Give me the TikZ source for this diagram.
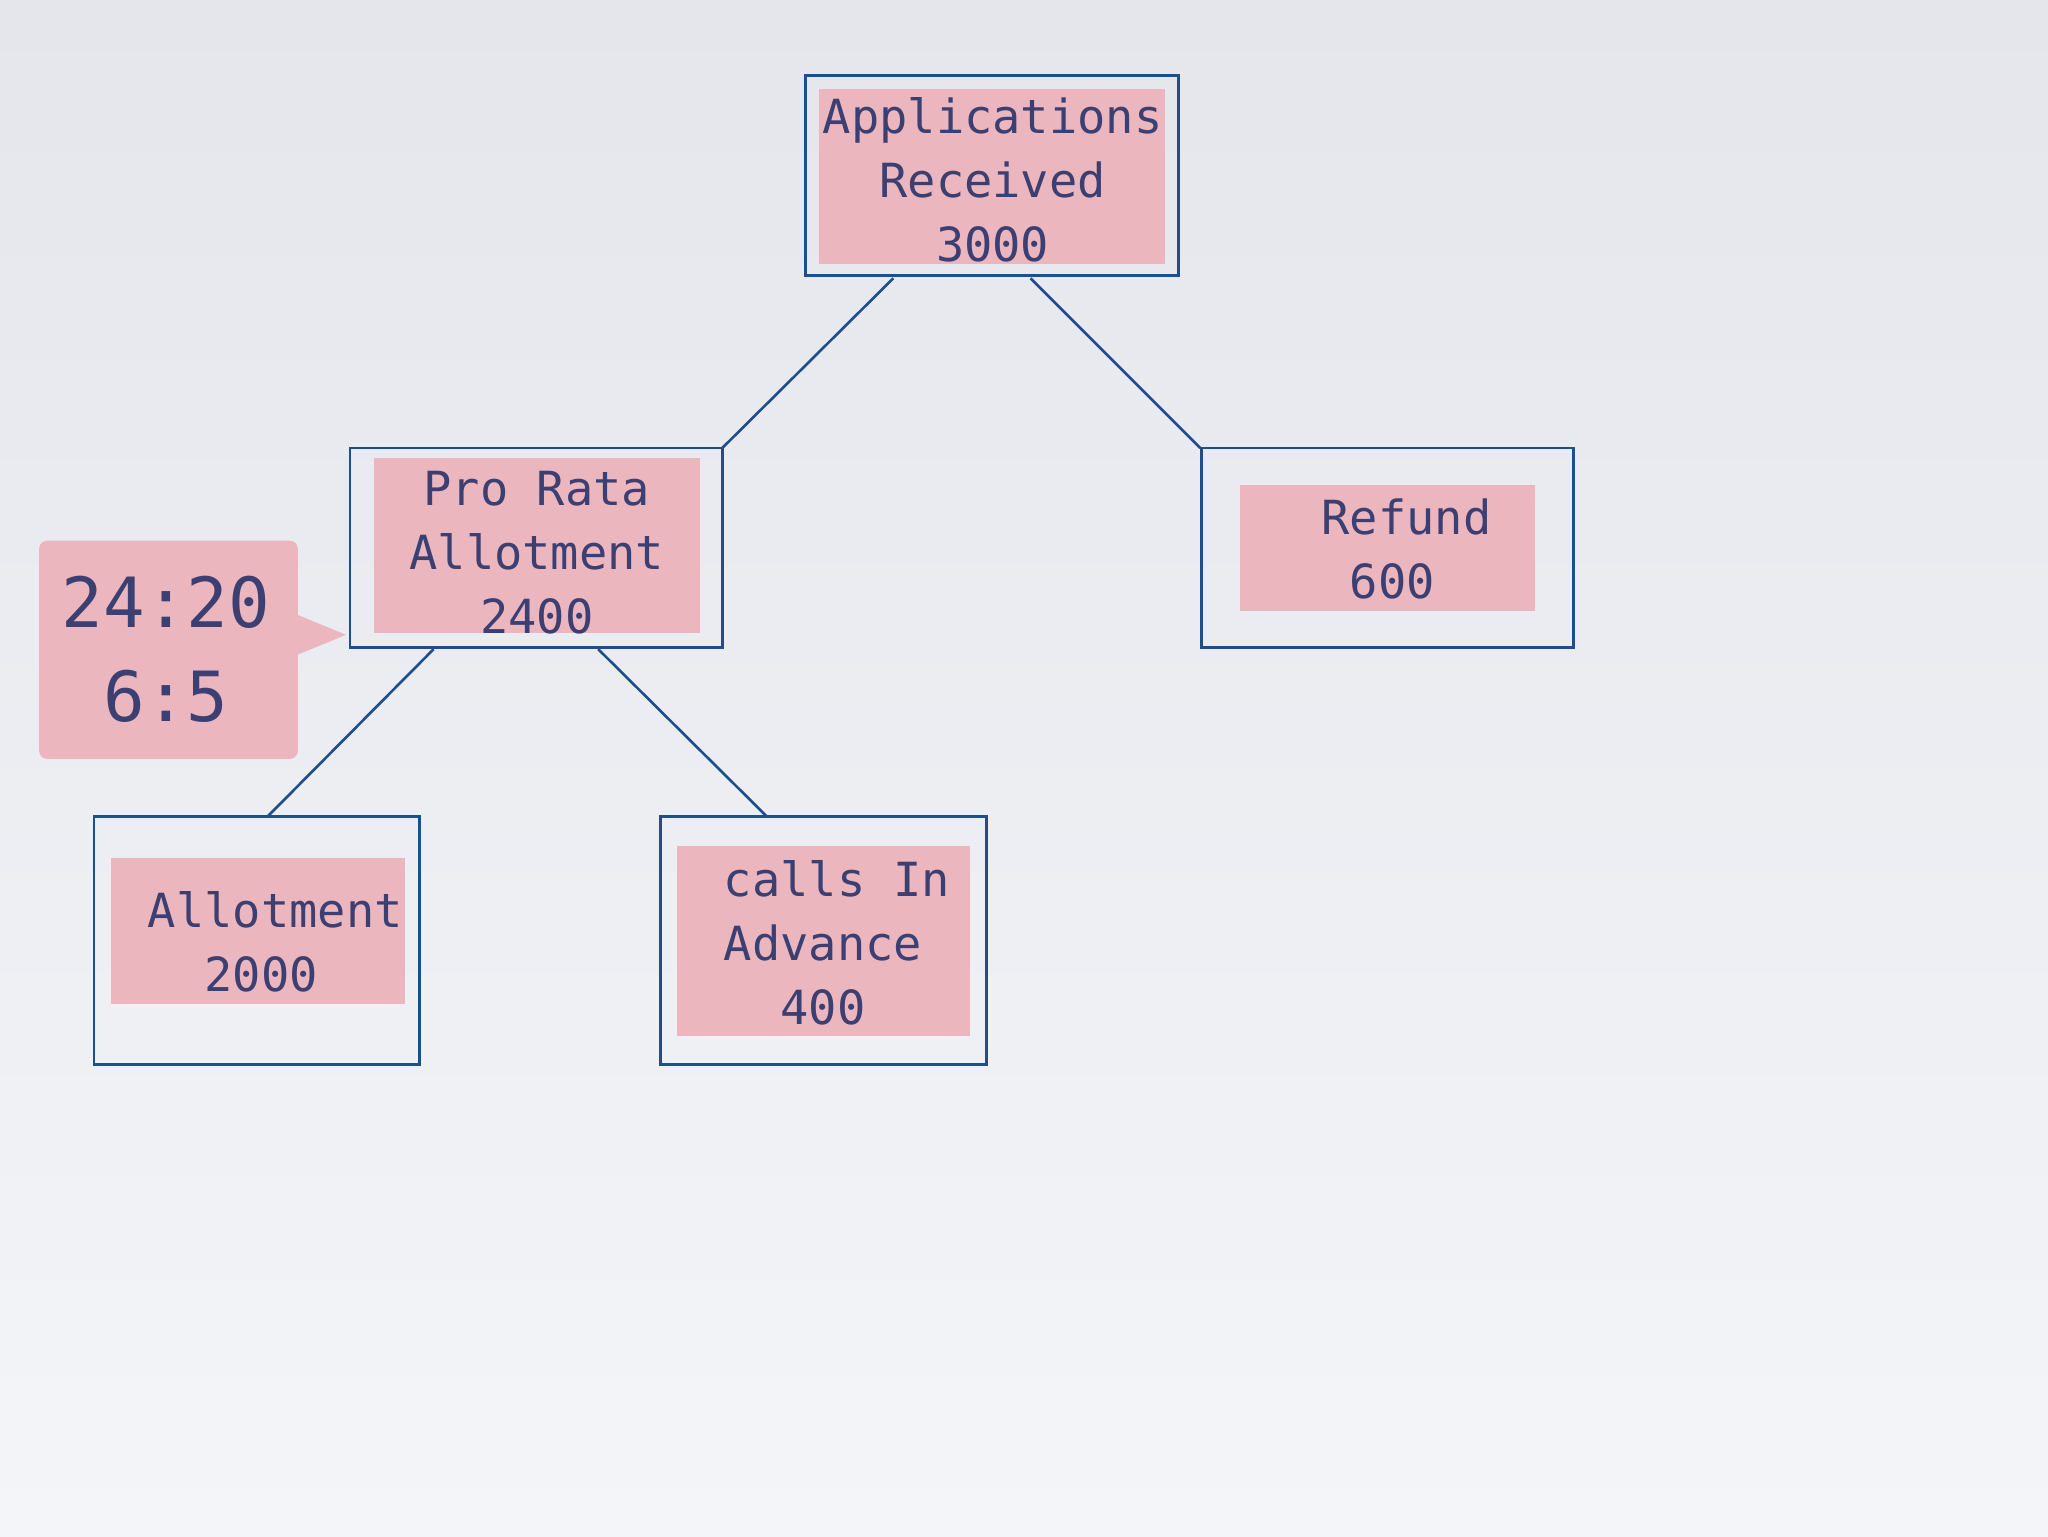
\documentclass[tikz,border=0pt]{standalone}
\usepackage{fontspec}
\setmonofont{DejaVu Sans Mono}
\definecolor{txt}{HTML}{3B3F72}
\definecolor{pinkf}{HTML}{EBB6BE}
\definecolor{edge}{HTML}{1F4E8C}
\definecolor{bgA}{HTML}{E4E6EC}
\definecolor{bgB}{HTML}{F4F5F8}
\begin{document}
\begin{tikzpicture}[x=1pt,y=-1pt,
  outer/.style={draw=edge,line width=2.2pt},
  inner/.style={fill=pinkf},
  lbl/.style={text=txt,font=\ttfamily\fontsize{36}{49}\selectfont,align=center},
  conn/.style={draw=edge,line width=2pt}]
\useasboundingbox (0,0) rectangle (1568,1176);
\shade[top color=bgA,bottom color=bgB] (0,0) rectangle (1568,1176);
% top
\draw[outer] (617,58) rectangle (902,211);
\fill[inner] (627,68) rectangle (892,202);
\node[lbl] (app) at (760,138) {Applications\\Received\\3000};
% pro rata
\draw[outer] (268,343) rectangle (553,496);
\fill[inner] (286,351) rectangle (536,485);
\node[lbl] (pro) at (411,423) {Pro Rata\\Allotment\\2400};
% refund
\draw[outer] (920,343) rectangle (1205,496);
\fill[inner] (949,371) rectangle (1175,468);
\node[lbl] (ref) at (1066,420) {~Refund\\600};
% allotment
\draw[outer] (72,625) rectangle (321,815);
\fill[inner] (85,657) rectangle (310,769);
\node[lbl] (all) at (200,721) {~Allotment\\2000};
% calls
\draw[outer] (506,625) rectangle (755,815);
\fill[inner] (518,648) rectangle (743,793);
\node[lbl] (cal) at (630,722) {~calls In\\Advance\\400};
% callout
\fill[pinkf,rounded corners=6pt] (30,414) rectangle (228,581);
\fill[pinkf] (226,470) -- (265,486) -- (226,502) -- cycle;
\node[text=txt,font=\ttfamily\fontsize{53}{72}\selectfont,align=center] (ratio) at (127,497) {24:20\\6:5};
% connectors
\coordinate (a1) at (684,213); \coordinate (p1) at (553,343);
\coordinate (a2) at (789,213); \coordinate (r1) at (919,343);
\coordinate (p2) at (332,497); \coordinate (l1) at (205,625);
\coordinate (p3) at (458,497); \coordinate (c1) at (587,625);
\draw[conn] (a1) -- (p1);
\draw[conn] (a2) -- (r1);
\draw[conn] (p2) -- (l1);
\draw[conn] (p3) -- (c1);
\end{tikzpicture}
\end{document}
